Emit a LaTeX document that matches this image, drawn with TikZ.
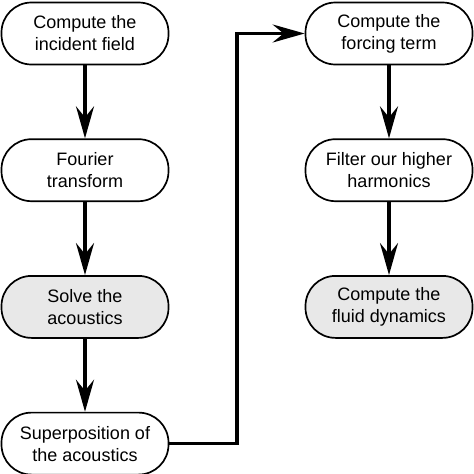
\documentclass[tikz,border=0pt]{standalone}
\usepackage{fontspec}
\setmainfont{Liberation Sans}
\usetikzlibrary{positioning,arrows.meta}

\definecolor{stepgray}{HTML}{E8E8E8}

\tikzset{
  stepbox/.style={draw, line width=1.7pt, rounded corners=30pt,
    minimum width=167pt, minimum height=62pt, align=center,
    font=\fontsize{18pt}{22pt}\selectfont},
  solvebox/.style={stepbox, fill=stepgray},
  flow/.style={line width=3.6pt,
    -{Stealth[length=32pt, width=18pt, inset=11pt]}}
}

\begin{document}
\begin{tikzpicture}[node distance=73pt]

  % Fix the size of the picture
  \useasboundingbox (0pt,0pt) rectangle (474pt,-474pt);

  % Left column
  \node[stepbox] (incident) at (85pt,-33.5pt) {Compute the\\incident field};
  \node[stepbox, below=of incident] (fourier) {Fourier\\transform};
  \node[solvebox, below=of fourier] (solve) {Solve the\\acoustics};
  \node[stepbox, below=of solve] (superpos) {Superposition of\\the acoustics};

  % Right column
  \node[stepbox] (forcing) at (389pt,-33.5pt) {Compute the\\forcing term};
  \node[stepbox, below=of forcing] (filter) {Filter our higher\\harmonics};
  \node[solvebox, below=of filter] (fluid) {Compute the\\fluid dynamics};

  % Arrows down each column
  \draw[flow] (incident) -- (fourier);
  \draw[flow] (fourier) -- (solve);
  \draw[flow] (solve) -- (superpos);
  \draw[flow] (forcing) -- (filter);
  \draw[flow] (filter) -- (fluid);

  % Arrow from the left column over to the right one
  \coordinate (turn) at (237pt,0pt);
  \draw[flow] (superpos.east) -- (superpos.east -| turn)
    -- (forcing.west -| turn) -- (forcing.west);

\end{tikzpicture}
\end{document}
